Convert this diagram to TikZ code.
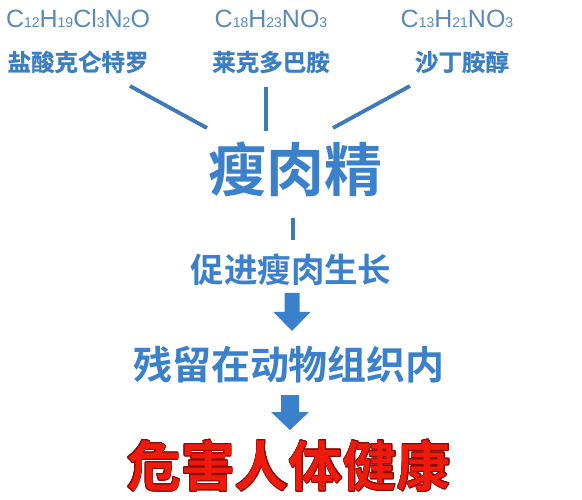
\documentclass[tikz,border=0pt]{standalone}
\usepackage{fontspec}
\setmainfont{Liberation Sans}
\newfontfamily\cjk{Noto Sans CJK SC}[BoldFont={Noto Sans CJK SC Bold}]
\newfontfamily\cjkheavy{Noto Sans CJK SC Bold}[FakeBold=0.8]
\usepackage{contour}
\contourlength{0.9pt}
\contournumber{16}
\definecolor{formc}{HTML}{5A8AB9}
\definecolor{namec}{HTML}{3B7EC2}
\definecolor{mainc}{HTML}{3A80CA}
\definecolor{linec}{HTML}{3D7AB6}
\definecolor{redc}{HTML}{EE1A0C}
\definecolor{redo}{HTML}{8A0A05}
\newcommand{\sbs}[1]{{\fontsize{14}{14}\selectfont #1}}
\begin{document}
\begin{tikzpicture}[x=1pt,y=-1pt,
  formula/.style={font=\fontsize{25}{25}\selectfont, text=formc, inner sep=0pt, anchor=base},
  drugname/.style={font=\cjkheavy\fontsize{23.5}{24}\selectfont, text=namec, inner sep=0pt},
  conn/.style={draw=linec, line width=3.8pt},
  blockarrow/.style={fill=mainc}]
\useasboundingbox (0,0) rectangle (582,500);
\fill[white] (0,0) rectangle (582,500);
% formulas
\node[formula] (f1) at (78,28) {C\sbs{12}H\sbs{19}Cl\sbs{3}N\sbs{2}O};
\node[formula] (f2) at (271,28) {C\sbs{18}H\sbs{23}NO\sbs{3}};
\node[formula] (f3) at (457,28) {C\sbs{13}H\sbs{21}NO\sbs{3}};
% names
\node[drugname] (n1) at (78,62) {盐酸克仑特罗};
\node[drugname] (n2) at (271,62) {莱克多巴胺};
\node[drugname] (n3) at (462,62) {沙丁胺醇};
% main
\node[font=\cjk\bfseries\fontsize{58}{60}\selectfont, text=mainc, inner sep=0pt] (m) at (295,169) {瘦肉精};
\node[font=\cjk\bfseries\fontsize{33.5}{34}\selectfont, text=mainc, inner sep=0pt] (s1) at (291,270) {促进瘦肉生长};
\node[font=\cjk\bfseries\fontsize{39}{40}\selectfont, text=mainc, inner sep=0pt] (s2) at (289,365) {残留在动物组织内};
\node[font=\cjk\bfseries\fontsize{54}{56}\selectfont, text=redc, inner sep=0pt] (s3) at (289,466) {\contour{redo}{危害人体健康}};
% connectors
\coordinate (a1) at (130,86); \coordinate (b1) at (207,128);
\coordinate (a2) at (266,87); \coordinate (b2) at (266,131);
\coordinate (a3) at (410,86); \coordinate (b3) at (333,128);
\coordinate (a4) at (293,218); \coordinate (b4) at (293,240);
\draw[conn] (a1) -- (b1);
\draw[conn] (a2) -- (b2);
\draw[conn] (a3) -- (b3);
\draw[conn] (a4) -- (b4);
% block arrows
\fill[blockarrow] (284.5,293) -- (299.5,293) -- (299.5,312) -- (310.5,312) -- (292,331) -- (273.5,312) -- (284.5,312) -- cycle;
\fill[blockarrow] (281,395) -- (299,395) -- (299,412) -- (309,412) -- (290,430) -- (271,412) -- (281,412) -- cycle;
\end{tikzpicture}
\end{document}
